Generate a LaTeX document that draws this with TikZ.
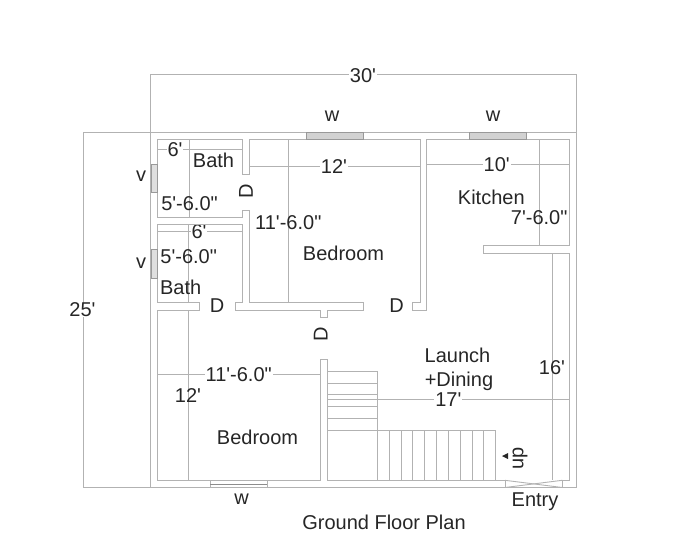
\documentclass[tikz,border=0pt]{standalone}
\usepackage{fontspec}
\newfontfamily\planfont{Liberation Sans}
\colorlet{wall edge}{black!30}
\colorlet{glass area}{gray!35}
\tikzset{wall/.style={draw=wall edge, line width=0.9pt},
    dimline/.style={draw=wall edge, line width=0.8pt},
    glass/.style={fill=glass area, draw=black!40, line width=0.8pt},
    roomlabel/.style={anchor=base, inner sep=0pt, text=black!85, font=\planfont\fontsize{20}{24}\selectfont},
    gaplabel/.style={roomlabel, fill=white, inner xsep=1pt},
    turnedlabel/.style={anchor=center, inner sep=0pt, rotate=90, text=black!85, font=\planfont\fontsize{20}{24}\selectfont}}

\begin{document}
\begin{tikzpicture}[x=1pt,y=-1pt]
    \useasboundingbox (0,0) rectangle (680,544);
    % Definition of the walls
    \def\upperwalls{(249.7,174.7) -- (249.7,139.3) -- (420,139.3) -- (420,302.7) -- (412.7,302.7) -- (412.7,310) -- (426.7,310) -- (426.7,139.3) -- (569.3,139.3) -- (569.3,245.3) -- (483.7,245.3) -- (483.7,253) -- (569.3,253) -- (569.3,480.3) -- (562.3,480.3)}
    \def\lowerwalls{(249.7,174.7) -- (242.3,174.7) -- (242.3,139.3) -- (157,139.3) -- (157,217.3) -- (242.3,217.3) -- (242.3,210.3) -- (249.7,210.3) -- (249.7,302.3) -- (363.3,302.3) -- (363.3,310) -- (327.3,310) -- (327.3,317.3) -- (320.7,317.3) -- (320.7,310) -- (235.3,310) -- (235.3,302.3) -- (242.3,302.3) -- (242.3,224.3) -- (157,224.3) -- (157,302.3) -- (199.7,302.3) -- (199.7,310) -- (157,310) -- (157,480.3) -- (320.7,480.3) -- (320.7,359.3) -- (327.3,359.3) -- (327.3,480.3) -- (505,480.3)}
    %
    % dimension lines that a label cuts
    \draw[dimline] (150.5,132.5) -- (150.5,74) -- (576.5,74) -- (576.5,132.5);
    \draw[dimline] (150.5,132.5) -- (83,132.5) -- (83,487.5) -- (150.5,487.5);
    \draw[dimline] (157,149.3) -- (242.3,149.3);
    \draw[dimline] (157,231.7) -- (242.3,231.7);
    \draw[dimline] (249.7,166.3) -- (420,166.3);
    \draw[dimline] (426.7,164.3) -- (569.3,164.3);
    \draw[dimline] (157,374.3) -- (320.7,374.3);
    \draw[dimline] (327.3,399.3) -- (569.3,399.3);
    \node[gaplabel] (topSize) at (363,82) {30'};
    \node[gaplabel] (leftSize) at (82.5,316.7) {25'};
    \node[gaplabel] (bathOneWidth) at (175,156) {6'};
    \node[gaplabel] (bathTwoWidth) at (199,238.3) {6'};
    \node[gaplabel] (bedOneWidth) at (334,173.3) {12'};
    \node[gaplabel] (kitchenWidth) at (496.7,171.7) {10'};
    \node[gaplabel] (bedTwoWidth) at (238.7,381.7) {11'-6.0"};
    \node[gaplabel] (hallWidth) at (448.3,406.7) {17'};
    %
    % dimension lines that run through their label
    \draw[dimline] (189.3,139.3) -- (189.3,217.3);
    \draw[dimline] (188.3,224.3) -- (188.3,302.3);
    \draw[dimline] (188.3,310) -- (188.3,480.3);
    \draw[dimline] (288.3,139.3) -- (288.3,302.3);
    \draw[dimline] (539.3,139.3) -- (539.3,245.3);
    \draw[dimline] (552.7,253) -- (552.7,480.3);
    %
    \draw[wall] (150.5,132.5) rectangle (576.5,487.5);
    \draw[wall] \upperwalls;
    \draw[wall] \lowerwalls;
    %
    % windows
    \draw[glass] (306.3,132.5) rectangle (363.3,139.3);
    \draw[glass] (469.3,132.5) rectangle (526.7,139.3);
    \draw[glass, fill=gray!25] (151.5,164.3) rectangle (157,192.3);
    \draw[glass, fill=gray!25] (151.5,249.3) rectangle (157,278.3);
    \draw[wall, fill=white] (210.3,480.3) rectangle (267.3,487.5);
    \draw[dimline, draw=black!45] (210.3,483.9) -- (267.3,483.9);
    %
    % stairs
    \draw[dimline] (327.3,371.3) -- (377.3,371.3) -- (377.3,480.3);
    \foreach \treadY in {383.3,394.7,406.7,418.3}
        \draw[dimline] (327.3,\treadY) -- (377.3,\treadY);
    \draw[dimline] (327.3,430.3) -- (495.6,430.3) -- (495.6,480.3);
    \foreach \treadX in {389.1,400.9,412.8,424.6,436.4,448.3,460.1,471.9,483.7}
        \draw[dimline] (\treadX,430.3) -- (\treadX,480.3);
    \fill[black!85] (502,456) -- (508,453) -- (508,459) -- cycle;
    %
    % entry door
    \draw[wall] (505,480.3) -- (505,487.5);
    \draw[wall] (562.3,480.3) -- (562.3,487.5);
    \draw[wall] (505,480.3) -- (562.3,487.5);
    \draw[wall] (505,487.5) -- (562.3,480.3);
    %
    \node[roomlabel] (windowA) at (332,121.7) {w};
    \node[roomlabel] (windowB) at (493,121.7) {w};
    \node[roomlabel] (windowC) at (241.7,504) {w};
    \node[roomlabel] (ventA) at (141,181.7) {v};
    \node[roomlabel] (ventB) at (141,268.3) {v};
    \node[roomlabel] (bathOne) at (213.5,167.3) {Bath};
    \node[roomlabel] (bathTwo) at (180.7,294.3) {Bath};
    \node[roomlabel] (bathOneDepth) at (189.5,210.7) {5'-6.0"};
    \node[roomlabel] (bathTwoDepth) at (188.7,263.3) {5'-6.0"};
    \node[roomlabel] (bedOneDepth) at (288.3,229) {11'-6.0"};
    \node[roomlabel] (bedOne) at (343.5,260) {Bedroom};
    \node[roomlabel] (kitchen) at (491.3,204) {Kitchen};
    \node[roomlabel] (kitchenDepth) at (539.2,224) {7'-6.0"};
    \node[roomlabel] (bedTwoDepth) at (188,402.7) {12'};
    \node[roomlabel] (bedTwo) at (257.5,444) {Bedroom};
    \node[roomlabel] (hallA) at (457.5,362.7) {Launch};
    \node[roomlabel] (hallB) at (459,386.7) {+Dining};
    \node[roomlabel] (hallDepth) at (552,374) {16'};
    \node[roomlabel] (doorA) at (217.2,312.3) {D};
    \node[roomlabel] (doorB) at (396.5,312.3) {D};
    \node[turnedlabel] (doorC) at (246,191) {D};
    \node[turnedlabel] (doorD) at (320.7,334) {D};
    \node[turnedlabel] (stairUp) at (520,458) {up};
    \node[roomlabel] (entry) at (535,506) {Entry};
    \node[roomlabel] (title) at (384,529.3) {Ground Floor Plan};
\end{tikzpicture}
\end{document}
